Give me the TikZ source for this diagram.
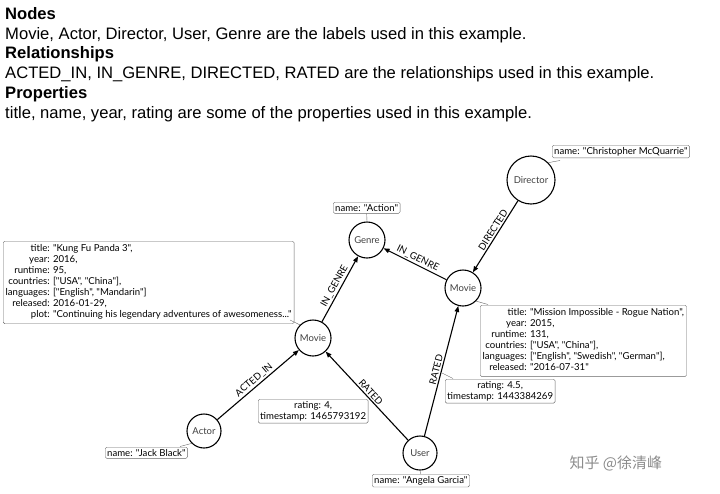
\documentclass[tikz,border=0pt]{standalone}
\usepackage{fontspec}
\setmainfont{Liberation Sans}
\newfontfamily\dfont{Lato}
\newfontfamily\cjk{Noto Sans CJK SC}
\usetikzlibrary{arrows.meta}
\begin{document}
\begin{tikzpicture}[x=1pt,y=-1pt,
  ent/.style={circle,draw,line width=1.1pt,minimum size=36pt,inner sep=0pt,font=\dfont\fontsize{9.5}{10}\selectfont,text=black!75},
  prop/.style={draw=black!60,rounded corners=1.5pt,inner sep=2pt,font=\dfont\fontsize{9.6}{11.3}\selectfont,align=left},
  rel/.style={-{Triangle[length=6pt,width=4.5pt]},line width=1.1pt},
  lab/.style={sloped,above,font=\dfont\fontsize{9.6}{10}\selectfont,inner sep=1.5pt},
  hd/.style={anchor=base west,inner sep=0pt,font=\fontsize{16.6}{18}\selectfont}]
\useasboundingbox (0,0) rectangle (720,493);
\node[hd,font=\bfseries\fontsize{16.6}{18}\selectfont] (h1) at (5,19) {Nodes};
\node[hd] (t1) at (5,39) {Movie, Actor, Director, User, Genre are the labels used in this example.};
\node[hd,font=\bfseries\fontsize{16.6}{18}\selectfont] (h2) at (5,58) {Relationships};
\node[hd] (t2) at (5,78) {ACTED\_IN, IN\_GENRE, DIRECTED, RATED are the relationships used in this example.};
\node[hd,font=\bfseries\fontsize{16.6}{18}\selectfont] (h3) at (5,98) {Properties};
\node[hd] (t3) at (5,118) {title, name, year, rating are some of the properties used in this example.};

\node[ent,minimum size=48pt] (dir) at (531,180) {Director};
\node[ent] (gen) at (367,240) {Genre};
\node[ent] (mv2) at (463,288) {Movie};
\node[ent] (mv1) at (313,338) {Movie};
\node[ent,minimum size=34pt] (act) at (204,431) {Actor};
\node[ent,minimum size=34pt] (usr) at (420,453) {User};

\draw[rel] (dir) -- node[lab,pos=0.45]{DIRECTED} (mv2);
\draw[rel] (mv2) -- node[lab]{IN\_GENRE} (gen);
\draw[rel] (mv1) -- node[lab]{IN\_GENRE} (gen);
\draw[rel] (act) -- node[lab]{ACTED\_IN} (mv1);
\draw[rel] (usr) -- node[lab]{RATED} (mv1);
\draw[rel] (usr) -- node[lab]{RATED} (mv2);

\node[prop,anchor=north west] (pdir) at (552,145) {name: "Christopher McQuarrie"};
\node[prop,anchor=north west] (pgen) at (333,202) {name: "Action"};
\node[prop,anchor=north west,inner sep=2.5pt] (pm1) at (3,241) {%
\renewcommand\arraystretch{0.98}%
\begin{tabular}{@{}r@{ }l@{}}
title:&"Kung Fu Panda 3",\\
year:&2016,\\
runtime:&95,\\
countries:&["USA", "China"],\\
languages:&["English", "Mandarin"]\\
released:&2016-01-29,\\
plot:&"Continuing his legendary adventures of awesomeness..."
\end{tabular}};
\node[prop,anchor=north west,inner sep=2.5pt] (pm2) at (480,305) {%
\renewcommand\arraystretch{0.98}%
\begin{tabular}{@{}r@{ }l@{}}
title:&"Mission Impossible - Rogue Nation",\\
year:&2015,\\
runtime:&131,\\
countries:&["USA", "China"],\\
languages:&["English", "Swedish", "German"],\\
released:&"2016-07-31"
\end{tabular}};
\node[prop,anchor=north west,align=center] (pr2) at (445,379) {rating: 4.5,\\timestamp: 1443384269};
\node[prop,anchor=north west,align=center] (pr1) at (258,399) {rating: 4,\\timestamp: 1465793192};
\node[prop,anchor=north west] (pact) at (105,447) {name: "Jack Black"};
\node[prop,anchor=north west] (pusr) at (372,474) {name: "Angela Garcia"};

\coordinate (c1) at (560,160.5);
\draw[black!60] (c1) -- (dir.north east);
\draw[black!60] (pgen.south) -- (gen.north);
\coordinate (c2) at (290,320);
\draw[black!60] (c2) -- (mv1.north west);
\coordinate (c3) at (488,304.5);
\draw[black!60] (c3) -- (mv2.south east);
\coordinate (c4) at (180,446.5);
\draw[black!60] (c4) -- (act.south west);
\draw[black!60] (pusr.north) -- (usr.south);
\coordinate (rt) at (440,372);
\coordinate (c5) at (453,378.5);
\draw[black!60] (c5) -- (rt);

\node[anchor=west,text=black!45,font=\cjk\fontsize{15}{16}\selectfont] (wm) at (566,463) {知乎 @徐清峰};
\end{tikzpicture}
\end{document}
